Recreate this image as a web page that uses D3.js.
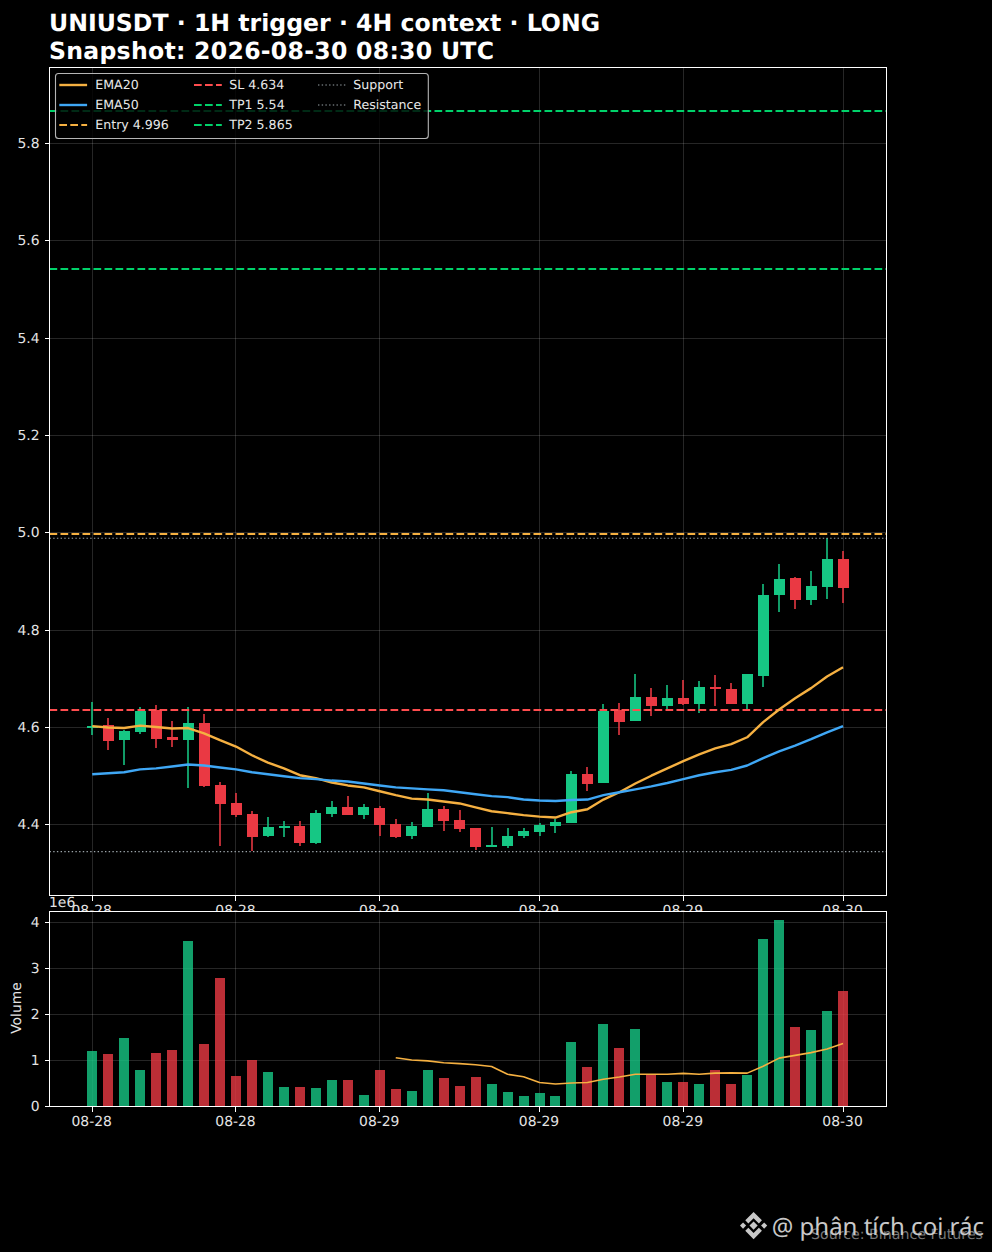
<!DOCTYPE html>
<html><head><meta charset="utf-8">
<script src="https://cdn.jsdelivr.net/npm/d3@7"></script>
<style>html,body{margin:0;padding:0;background:#000;}svg{display:block;text-rendering:geometricPrecision;}text{font-family:"DejaVu Sans",sans-serif;}</style>
</head><body>
<svg id="c" width="992" height="1252"></svg>
<script>
const opens  = [4.600,4.605,4.574,4.590,4.637,4.580,4.574,4.609,4.481,4.444,4.422,4.376,4.393,4.397,4.362,4.422,4.436,4.420,4.434,4.401,4.376,4.395,4.432,4.409,4.393,4.354,4.358,4.376,4.385,4.397,4.403,4.504,4.485,4.637,4.613,4.662,4.644,4.660,4.648,4.683,4.679,4.648,4.705,4.872,4.907,4.862,4.888,4.946];
const highs  = [4.652,4.619,4.594,4.642,4.646,4.613,4.642,4.627,4.489,4.465,4.428,4.417,4.407,4.407,4.430,4.448,4.459,4.442,4.438,4.413,4.405,4.465,4.438,4.430,4.393,4.395,4.393,4.393,4.403,4.413,4.510,4.518,4.648,4.650,4.709,4.681,4.687,4.697,4.695,4.707,4.691,4.709,4.894,4.936,4.909,4.921,4.989,4.962];
const lows   = [4.584,4.553,4.524,4.586,4.557,4.561,4.475,4.477,4.356,4.417,4.346,4.376,4.376,4.356,4.360,4.417,4.420,4.411,4.378,4.374,4.370,4.395,4.387,4.385,4.348,4.354,4.352,4.374,4.378,4.383,4.403,4.469,4.485,4.584,4.613,4.623,4.637,4.646,4.629,4.644,4.648,4.635,4.683,4.837,4.843,4.851,4.864,4.855];
const closes = [4.604,4.572,4.592,4.633,4.578,4.574,4.609,4.479,4.442,4.420,4.374,4.395,4.397,4.362,4.424,4.436,4.420,4.436,4.399,4.374,4.397,4.432,4.407,4.391,4.354,4.358,4.378,4.387,4.399,4.405,4.504,4.483,4.633,4.613,4.662,4.644,4.660,4.648,4.683,4.679,4.648,4.709,4.872,4.905,4.862,4.890,4.946,4.886];
const ema20  = [4.603,4.600,4.599,4.604,4.601,4.598,4.599,4.588,4.574,4.561,4.543,4.528,4.516,4.502,4.496,4.487,4.481,4.477,4.469,4.461,4.454,4.452,4.448,4.444,4.436,4.428,4.424,4.420,4.417,4.415,4.426,4.432,4.452,4.467,4.485,4.501,4.516,4.531,4.545,4.557,4.566,4.580,4.611,4.637,4.660,4.681,4.705,4.724];
const ema50  = [4.504,4.506,4.508,4.514,4.516,4.520,4.524,4.522,4.518,4.514,4.508,4.504,4.500,4.496,4.494,4.491,4.489,4.485,4.481,4.477,4.475,4.473,4.471,4.467,4.463,4.459,4.457,4.452,4.450,4.449,4.451,4.452,4.461,4.467,4.473,4.479,4.486,4.494,4.502,4.508,4.513,4.522,4.537,4.551,4.563,4.576,4.590,4.603];
const volumes= [1.20,1.14,1.49,0.79,1.16,1.22,3.59,1.355,2.79,0.66,1.01,0.75,0.42,0.42,0.40,0.57,0.57,0.25,0.79,0.38,0.33,0.79,0.62,0.44,0.64,0.49,0.31,0.22,0.29,0.22,1.40,0.855,1.79,1.27,1.68,0.70,0.53,0.53,0.49,0.79,0.49,0.68,3.64,4.05,1.72,1.66,2.07,2.51];
const volumeMA=[null,null,null,null,null,null,null,null,null,null,null,null,null,null,null,null,null,null,null,1.06,1.01,0.99,0.95,0.93,0.905,0.87,0.70,0.645,0.52,0.49,0.51,0.52,0.59,0.64,0.70,0.70,0.70,0.72,0.70,0.725,0.73,0.725,0.875,1.05,1.11,1.17,1.25,1.37];
const tickIndex = [0,9,18,28,37,47];
const tickLabels = ["08-28","08-28","08-29","08-29","08-29","08-30"];
const priceTicks = [4.4,4.6,4.8,5.0,5.2,5.4,5.6,5.8];
const volumeTicks = [0,1,2,3,4];
const levelNames = ["Entry 4.996","SL 4.634","TP1 5.54","TP2 5.865","Support","Resistance"];
const levelValues = [4.996,4.634,5.54,5.865,4.345,4.989];
const titleLines = ["UNIUSDT · 1H trigger · 4H context · LONG","Snapshot: 2026-08-30 08:30 UTC"];

const GREEN="#16c784",RED="#ea3943",ORANGE="#f5b041",BLUE="#3fa7f5",SL="#ff4d4f",TP="#00d26a",GREY="#9aa3a8";
const levelColors=[ORANGE,SL,TP,TP,GREY,GREY];
const L=49.5,R=886.5,PT=67.5,PB=895.5,VT=911.5,VB=1106.5;
const x=d3.scaleLinear().domain([-2.673,49.72]).range([L,R]);
const y=d3.scaleLinear().domain([4.2548,5.9565]).range([PB,PT]);
const v=d3.scaleLinear().domain([0,4.234]).range([VB,VT]);
const svg=d3.select("#c");
svg.append("rect").attr("width",992).attr("height",1252).attr("fill","#000");
const defs=svg.append("defs");
defs.append("clipPath").attr("id","cp").append("rect").attr("x",L).attr("y",PT).attr("width",R-L).attr("height",PB-PT);
defs.append("clipPath").attr("id","cv").append("rect").attr("x",L).attr("y",VT).attr("width",R-L).attr("height",VB-VT);

const snap=a=>Math.round(a-0.5)+0.5;
function styleAxis(g){
  g.selectAll("path").remove();
  g.selectAll("line").attr("stroke","#fff").attr("stroke-width",1).attr("shape-rendering","crispEdges");
  g.selectAll("text").attr("fill","#e4e4e4").attr("font-size",13.9).attr("font-family",'"DejaVu Sans"');
}
function panel(top,bot,yScale,yTicks){
  const g=svg.append("g");
  g.append("rect").attr("x",L).attr("y",top).attr("width",R-L).attr("height",bot-top).attr("fill","#000");
  const grid=g.append("g").attr("shape-rendering","crispEdges").attr("stroke","#fff").attr("stroke-opacity",0.15).attr("stroke-width",1);
  grid.selectAll("line.v").data(tickIndex).join("line").attr("x1",d=>snap(x(d))).attr("x2",d=>snap(x(d))).attr("y1",top).attr("y2",bot);
  grid.selectAll("line.h").data(yTicks).join("line").attr("y1",d=>snap(yScale(d))).attr("y2",d=>snap(yScale(d))).attr("x1",L).attr("x2",R);
  return g;
}
function frame(top,bot,yScale,yTicks,fmt){
  const g=svg.append("g");
  const ax=g.append("g").attr("transform",`translate(0,${bot})`).call(d3.axisBottom(x).tickValues(tickIndex).tickFormat((d,i)=>tickLabels[i]).tickSize(5).tickPadding(5).offset(0));
  styleAxis(ax);
  ax.selectAll(".tick line").attr("x1",d=>snap(x(d))-x(d)).attr("x2",d=>snap(x(d))-x(d));
  ax.selectAll(".tick text").attr("dx",-0.5);
  const ay=g.append("g").attr("transform",`translate(${L},0)`).call(d3.axisLeft(yScale).tickValues(yTicks).tickFormat(fmt).tickSize(5).tickPadding(5).offset(0));
  styleAxis(ay);
  ay.selectAll(".tick line").attr("y1",d=>snap(yScale(d))-yScale(d)).attr("y2",d=>snap(yScale(d))-yScale(d));
  g.append("rect").attr("x",L).attr("y",top).attr("width",R-L).attr("height",bot-top).attr("fill","none").attr("stroke","#fff").attr("stroke-width",1).attr("shape-rendering","crispEdges");
  return g;
}

/* price panel */
const pg=panel(PT,PB,y,priceTicks);
const plot=pg.append("g").attr("clip-path","url(#cp)");
const idx=d3.range(opens.length);
plot.selectAll("line.w").data(idx).join("line")
  .attr("x1",i=>Math.round(x(i))).attr("x2",i=>Math.round(x(i))).attr("y1",i=>Math.round(y(highs[i]))).attr("y2",i=>Math.round(y(lows[i])))
  .attr("stroke",i=>closes[i]>=opens[i]?GREEN:RED).attr("stroke-width",2).attr("stroke-opacity",0.78).attr("shape-rendering","crispEdges");
plot.selectAll("rect.b").data(idx).join("rect")
  .attr("x",i=>Math.round(x(i)-5.4)).attr("width",11)
  .attr("y",i=>Math.round(y(Math.max(opens[i],closes[i]))))
  .attr("height",i=>Math.max(2,Math.round(Math.abs(y(opens[i])-y(closes[i])))))
  .attr("fill",i=>closes[i]>=opens[i]?GREEN:RED).attr("shape-rendering","crispEdges");
const dashes=["7.7,3.3","7.7,3.3","7.7,3.3","7.7,3.3","1.4,2.3","1.4,2.3"];
const levelY=(d,i)=>i<4?Math.round(y(d)-0.9):y(d);
plot.selectAll("line.l").data(levelValues).join("line")
  .attr("x1",L).attr("x2",R).attr("y1",levelY).attr("y2",levelY)
  .attr("stroke",(d,i)=>levelColors[i]).attr("stroke-width",(d,i)=>i<4?2:1.2).attr("stroke-dasharray",(d,i)=>dashes[i]);
const line=d3.line().x((d,i)=>x(i)).y(d=>y(d));
plot.append("path").attr("d",line(ema20)).attr("fill","none").attr("stroke",ORANGE).attr("stroke-width",2.4).attr("stroke-linejoin","round");
plot.append("path").attr("d",line(ema50)).attr("fill","none").attr("stroke",BLUE).attr("stroke-width",2.4).attr("stroke-linejoin","round");

/* legend */
frame(PT,PB,y,priceTicks,d3.format(".1f"));
const lg=svg.append("g");
const entries=[["EMA20",ORANGE,null,2.4],["EMA50",BLUE,null,2.4]]
  .concat(levelNames.map((n,i)=>[n,levelColors[i],dashes[i],i<4?1.9:1.2]));
const colX=[59.3,194,318],txtX=[95.3,229.3,353.3],rowY=[85,105,125];
lg.append("rect").attr("x",55.5).attr("y",73.5).attr("width",372.8).attr("height",65).attr("rx",3)
  .attr("fill","#000").attr("fill-opacity",0.8).attr("stroke","#b5b5b5").attr("stroke-width",1.1);
entries.forEach((e,k)=>{
  const c=Math.min(2,Math.floor(k/3)),r=k%3;
  lg.append("line").attr("x1",colX[c]).attr("x2",colX[c]+27.8).attr("y1",rowY[r]).attr("y2",rowY[r])
    .attr("stroke",e[1]).attr("stroke-width",e[3]).attr("stroke-dasharray",e[2]);
  lg.append("text").attr("x",txtX[c]).attr("y",rowY[r]).attr("dy","0.32em").attr("font-size",12.6).attr("fill","#e8e8e8").text(e[0]);
});

/* volume panel */
const vg=panel(VT,VB,v,volumeTicks);
const vplot=vg.append("g").attr("clip-path","url(#cv)");
vplot.selectAll("rect.v").data(idx).join("rect")
  .attr("x",i=>Math.round(x(i)-5)).attr("width",10)
  .attr("y",i=>Math.round(v(volumes[i]))).attr("height",i=>VB-Math.round(v(volumes[i])))
  .attr("fill",i=>closes[i]>=opens[i]?GREEN:RED).attr("fill-opacity",0.8).attr("shape-rendering","crispEdges");
const vline=d3.line().defined(d=>d!==null).x((d,i)=>x(i)).y(d=>v(d));
vplot.append("path").attr("d",vline(volumeMA)).attr("fill","none").attr("stroke",ORANGE).attr("stroke-width",1.6).attr("stroke-linejoin","round");
frame(VT,VB,v,volumeTicks,d3.format("d"));
svg.append("text").attr("x",49).attr("y",907).attr("font-size",13.9).attr("fill","#e4e4e4").text("1e6");
svg.append("text").attr("transform","translate(21,1008) rotate(-90)").attr("text-anchor","middle").attr("font-size",13.9).attr("fill","#e4e4e4").text("Volume");

/* titles */
const titleWidths=[551,445];
svg.selectAll("text.t").data(titleLines).join("text").attr("class","t").attr("x",49).attr("y",(d,i)=>31+i*28)
  .attr("font-size",23.6).attr("font-weight","bold").attr("fill","#fff")
  .attr("textLength",(d,i)=>titleWidths[i]).attr("lengthAdjust","spacing").text(d=>d);

/* footer */
svg.append("text").attr("x",983).attr("y",1239).attr("text-anchor","end").attr("font-size",14.2).attr("fill","#777").text("Source: Binance Futures");
const logo=svg.append("g").attr("transform","translate(740,1212) scale(0.85)").attr("fill","#c8c8c8");
["M9.8 13.45L16 7.25l6.2 6.2 3.6-3.6L16 0 6.2 9.85z","M9.8 18.55L16 24.75l6.2-6.2 3.6 3.6L16 32 6.2 22.15z","M0 16l3.6-3.6L7.2 16l-3.6 3.6z","M24.8 16l3.6-3.6L32 16l-3.6 3.6z","M16 11.2L20.8 16 16 20.8 11.2 16z"]
  .forEach(p=>logo.append("path").attr("d",p));
svg.append("text").attr("x",984).attr("y",1235).attr("text-anchor","end").attr("font-size",24).attr("fill","#c8c8c8")
  .style("font-family",'"Noto Sans"').text("@ phân tích coi rác");
</script>
</body></html>
